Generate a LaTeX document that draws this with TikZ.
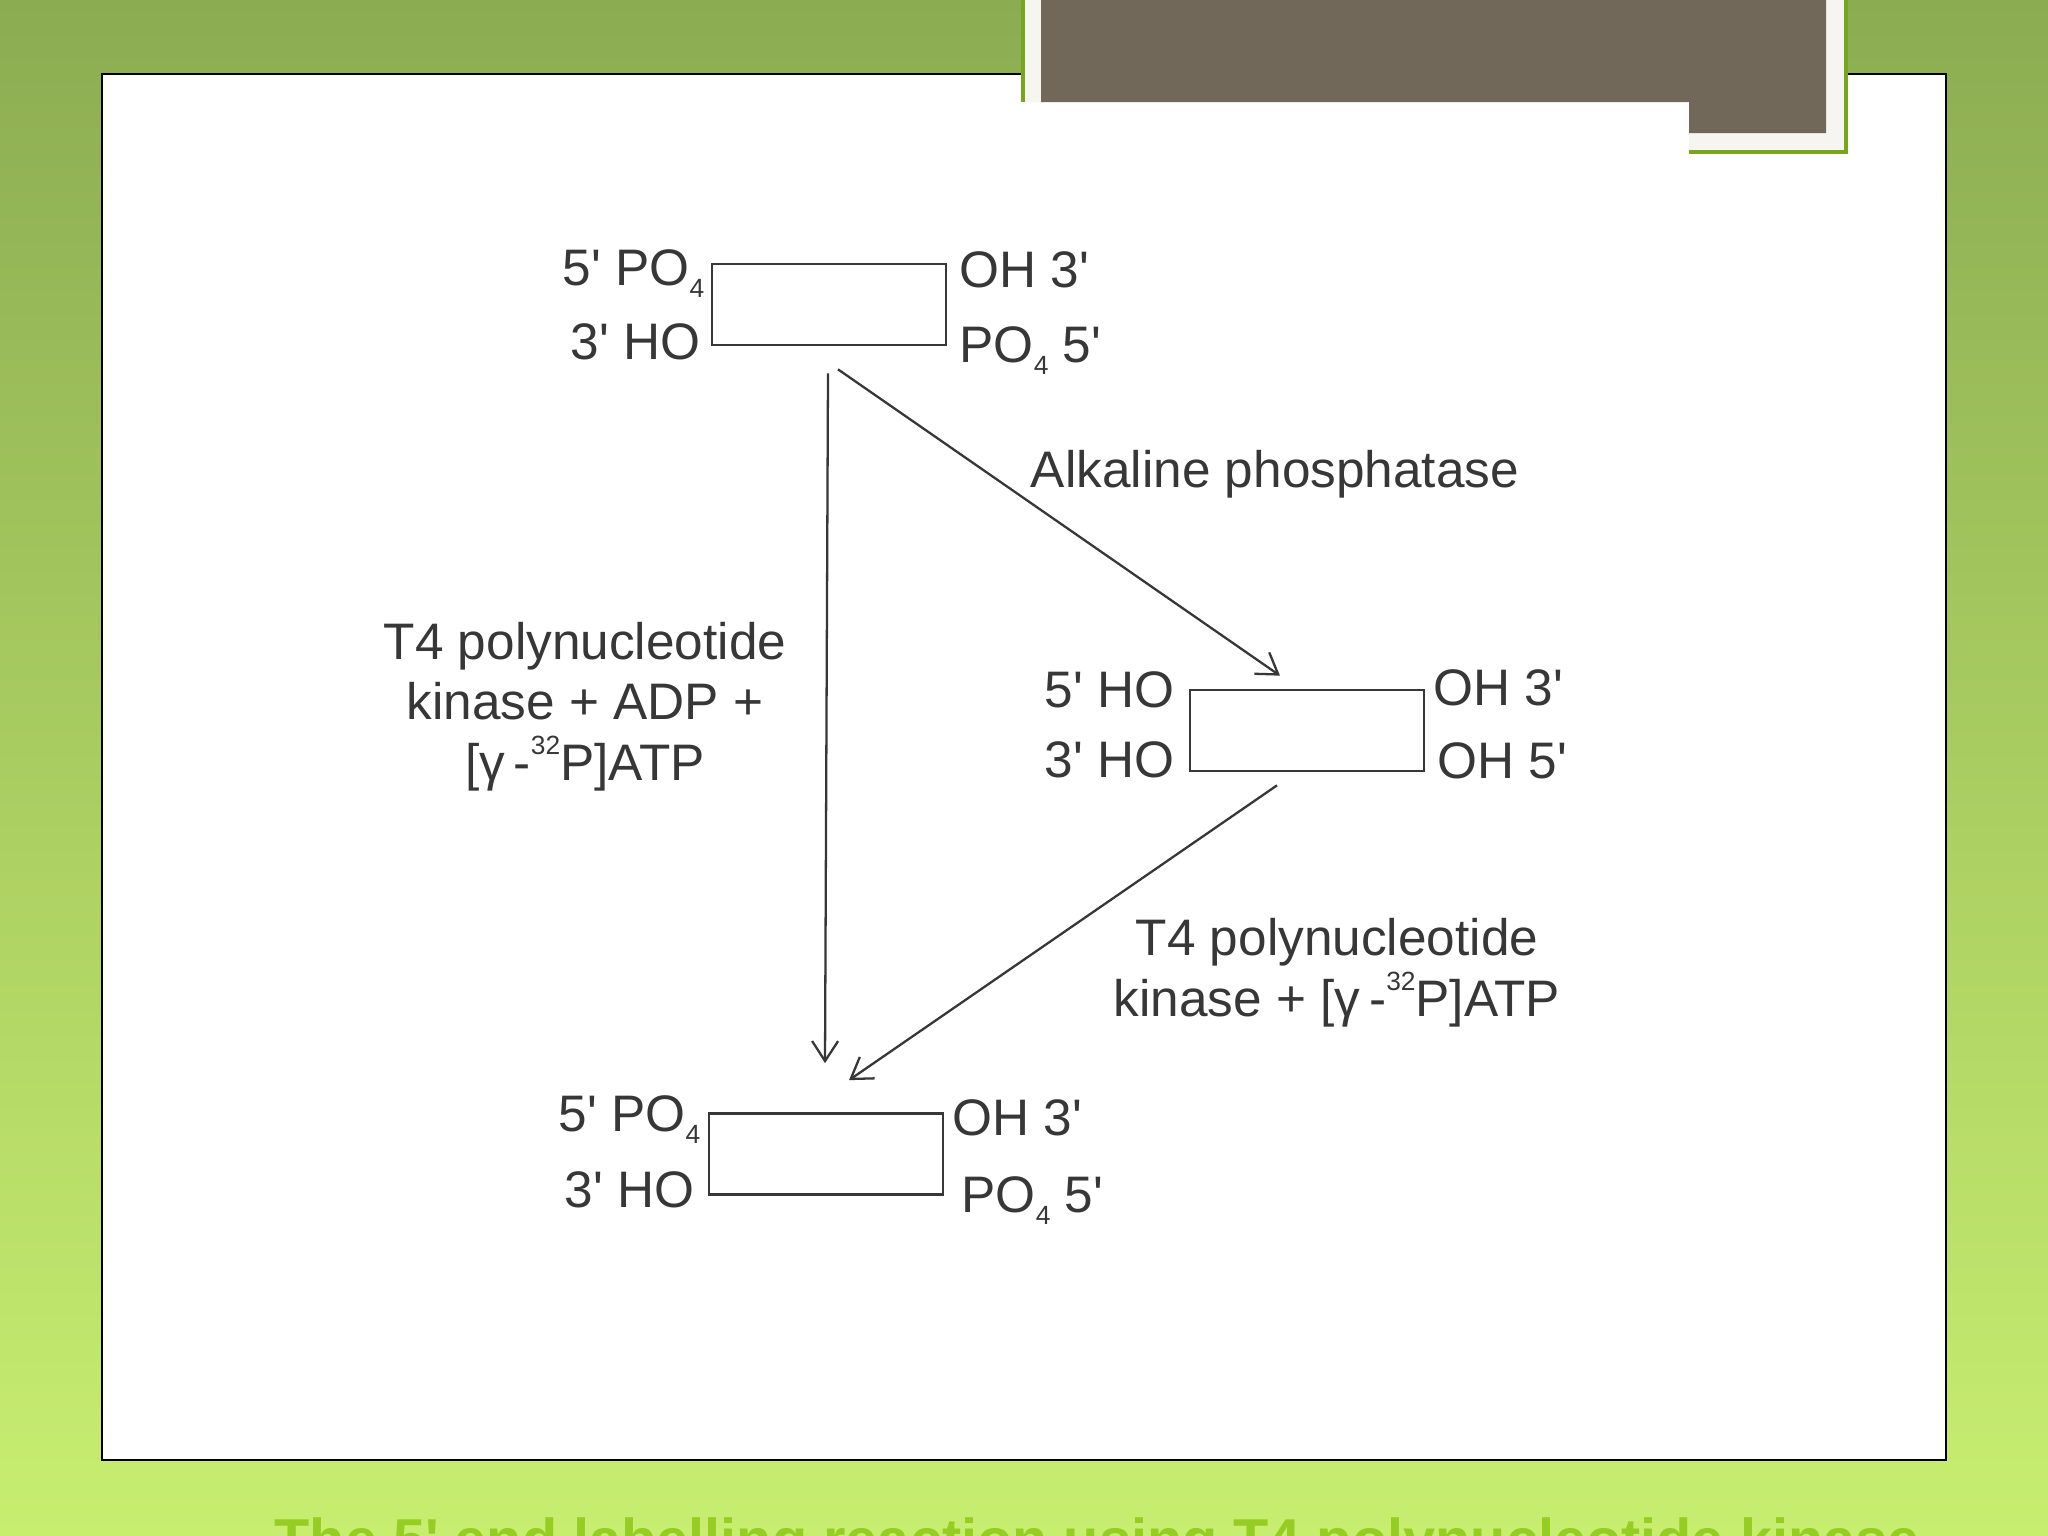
\documentclass[tikz,border=0pt]{standalone}
\usepackage{fontspec}
\setsansfont{Liberation Sans}
\usetikzlibrary{arrows.meta}
\usetikzlibrary{calc}

\definecolor{slideTop}{RGB}{140,172,82}
\definecolor{slideBottom}{RGB}{200,238,112}
\definecolor{tabGray}{RGB}{113,104,90}
\definecolor{tabFrame}{RGB}{247,245,242}
\definecolor{tabEdge}{RGB}{120,165,30}
\definecolor{titleGreen}{RGB}{150,205,35}
\definecolor{inkGray}{RGB}{55,55,55}
\newcommand{\prm}{\textquotesingle}
\newcommand{\subFour}{\raisebox{-0.45ex}{\fontsize{7.5}{8}\selectfont 4}}
\newcommand{\supIso}{\raisebox{0.95ex}{\fontsize{7.5}{8}\selectfont 32}}

\begin{document}
\begin{tikzpicture}[x = 0.01cm, y = -0.01cm, font=\sffamily]
	\tikzstyle{strandStyle} = [shape = rectangle, draw = inkGray, line width = 0.75pt, minimum width = 2.34cm, minimum height = 0.81cm, inner sep = 0pt]
	\tikzstyle{endStyle} = [text = inkGray, inner sep = 0pt, font = \sffamily\fontsize{14.6}{17.1}\selectfont]
	\tikzstyle{enzymeStyle} = [endStyle, align = center, anchor = base]
	\tikzstyle{arrowStyle} = [draw = inkGray, line width = 0.65pt, -{Straight Barb[length = 0.2cm, width = 0.26cm]}]
	\clip (0,0) rectangle (2048,1536);
	\shade[top color = slideTop, bottom color = slideBottom] (0,0) rectangle (2048,1536);
	\draw[fill = white, line width = 0.6pt] (102,74) rectangle (1946,1460);
	\fill[tabFrame] (1023,0) -- (1023,102) -- (1689,102) -- (1689,152) -- (1846,152) -- (1846,0) -- cycle;
	\fill[tabGray] (1041,0) -- (1041,102) -- (1689,102) -- (1689,133) -- (1826,133) -- (1826,0) -- cycle;
	\draw[tabEdge, line width = 1pt] (1023,0) -- (1023,102);
	\draw[tabEdge, line width = 1pt] (1689,152) -- (1846,152) -- (1846,0);
	\node[anchor = base, inner sep = 0pt, text = titleGreen, font = \sffamily\bfseries\fontsize{16.4}{20}\selectfont] (title) at (1097,1559) {The 5\prm\ end labelling reaction using T4 polynucleotide kinase};
	\node[strandStyle] (s0) at (829,304.5) {};
	\node[strandStyle] (s1) at (1307,730.5) {};
	\node[strandStyle] (s2) at (826,1154) {};
	\node[endStyle, anchor = base east] (e0) at (705,285) {5\prm\ PO\subFour};
	\node[endStyle, anchor = base east] (e1) at (701,359) {3\prm\ HO};
	\node[endStyle, anchor = base west] (e2) at (959,287) {OH 3\prm};
	\node[endStyle, anchor = base west] (e3) at (959,362) {PO\subFour\ 5\prm};
	\node[endStyle, anchor = base east] (e4) at (1175,707) {5\prm\ HO};
	\node[endStyle, anchor = base east] (e5) at (1175,777) {3\prm\ HO};
	\node[endStyle, anchor = base west] (e6) at (1433,705) {OH 3\prm};
	\node[endStyle, anchor = base west] (e7) at (1437,778) {OH 5\prm};
	\node[endStyle, anchor = base east] (e8) at (701,1131) {5\prm\ PO\subFour};
	\node[endStyle, anchor = base east] (e9) at (695,1207) {3\prm\ HO};
	\node[endStyle, anchor = base west] (e10) at (952,1135) {OH 3\prm};
	\node[endStyle, anchor = base west] (e11) at (961,1212) {PO\subFour\ 5\prm};
	\node[enzymeStyle] (t0) at (585,780) {T4 polynucleotide\\kinase + ADP +\\{[}γ\,-\supIso P{]}ATP};
	\node[enzymeStyle] (t1) at (1275,487) {Alkaline phosphatase};
	\node[enzymeStyle] (t2) at (1337,1016) {T4 polynucleotide\\kinase + {[}γ\,-\supIso P{]}ATP};
	\draw[arrowStyle] ($(s0.south)+(-1,27)$) -- ($(s2.north)+(-1,-49)$);
	\draw[arrowStyle] ($(s0.south)+(9,23)$) -- ($(s1.north)+(-27,-13)$);
	\draw[arrowStyle] ($(s1.south)+(-30,13)$) -- ($(s2.north)+(23,-32)$);
\end{tikzpicture}
\end{document}
